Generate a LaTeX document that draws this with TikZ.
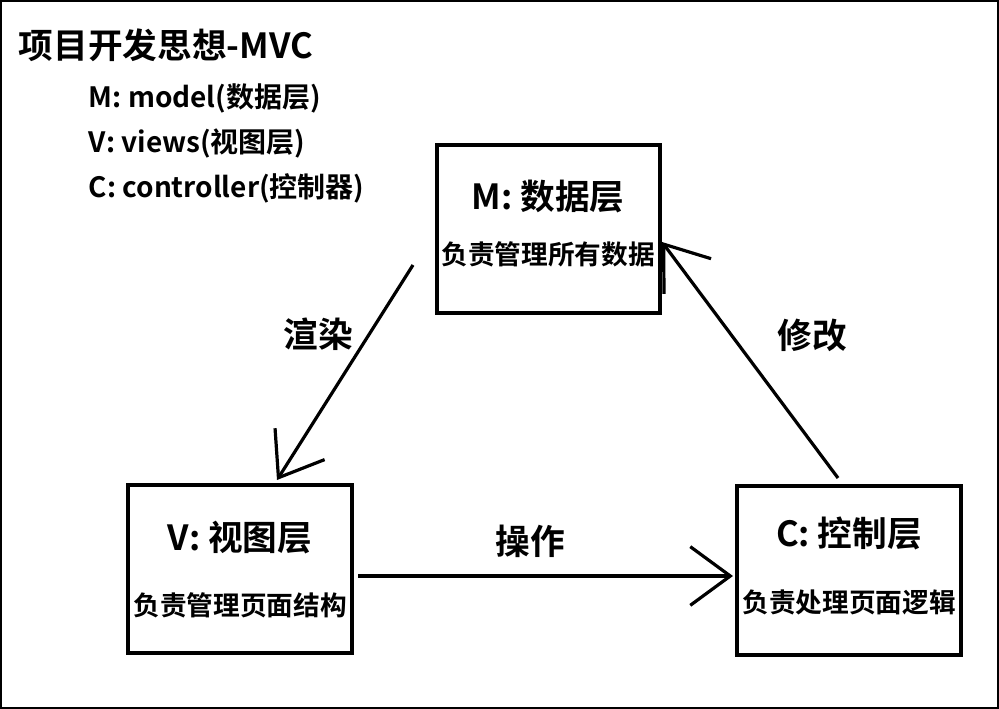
\documentclass[tikz,border=0pt]{standalone}
\usepackage{fontspec}
\setmainfont{Noto Sans CJK SC}[BoldFont={* Bold}]
\usetikzlibrary{arrows.meta}
\begin{document}
\begin{tikzpicture}[x=0.75pt,y=-0.75pt,
  box/.style={draw,line width=2.4pt},
  conn/.style={line width=2.4pt,-{Straight Barb[length=30pt,width=44pt,line width=2.4pt]}},
  big/.style={font=\bfseries\fontsize{26}{30}\selectfont},
  small/.style={font=\bfseries\fontsize{20}{24}\selectfont},
  hd/.style={font=\bfseries\fontsize{21}{25}\selectfont,anchor=west}]
\useasboundingbox (0,0) rectangle (999,709);
\draw[line width=1pt] (1,1) rectangle (998,708);
\node[font=\bfseries\fontsize{26}{30}\selectfont,anchor=west] (title) at (14,45) {项目开发思想-MVC};
\node[hd] (lm) at (84,98) {M: model(数据层)};
\node[hd] (lv) at (84,143) {V: views(视图层)};
\node[hd] (lc) at (84,188) {C: controller(控制器)};
\draw[box] (437,145) rectangle (660,313);
\draw[box] (128,485) rectangle (352,653);
\draw[box] (737,486) rectangle (961,655);
\node[big] (mt) at (548,197) {M: 数据层};
\node[small] (md) at (548,254) {负责管理所有数据};
\node[big] (vt) at (240,538) {V: 视图层};
\node[small] (vd) at (240,605) {负责管理页面结构};
\node[big] (ct) at (849,533) {C: 控制层};
\node[small] (cd) at (849,602) {负责处理页面逻辑};
\coordinate (r1) at (413,265); \coordinate (r2) at (277,480);
\coordinate (o1) at (358,576); \coordinate (o2) at (733,576);
\coordinate (m1) at (838,478); \coordinate (m2) at (662,242);
\draw[conn] (r1) -- (r2);
\draw[conn] (o1) -- (o2);
\draw[conn] (m1) -- (m2);
\node[big] (lr) at (318,334) {渲染};
\node[big] (lmod) at (812,335) {修改};
\node[big] (lo) at (530,541) {操作};
\end{tikzpicture}
\end{document}
